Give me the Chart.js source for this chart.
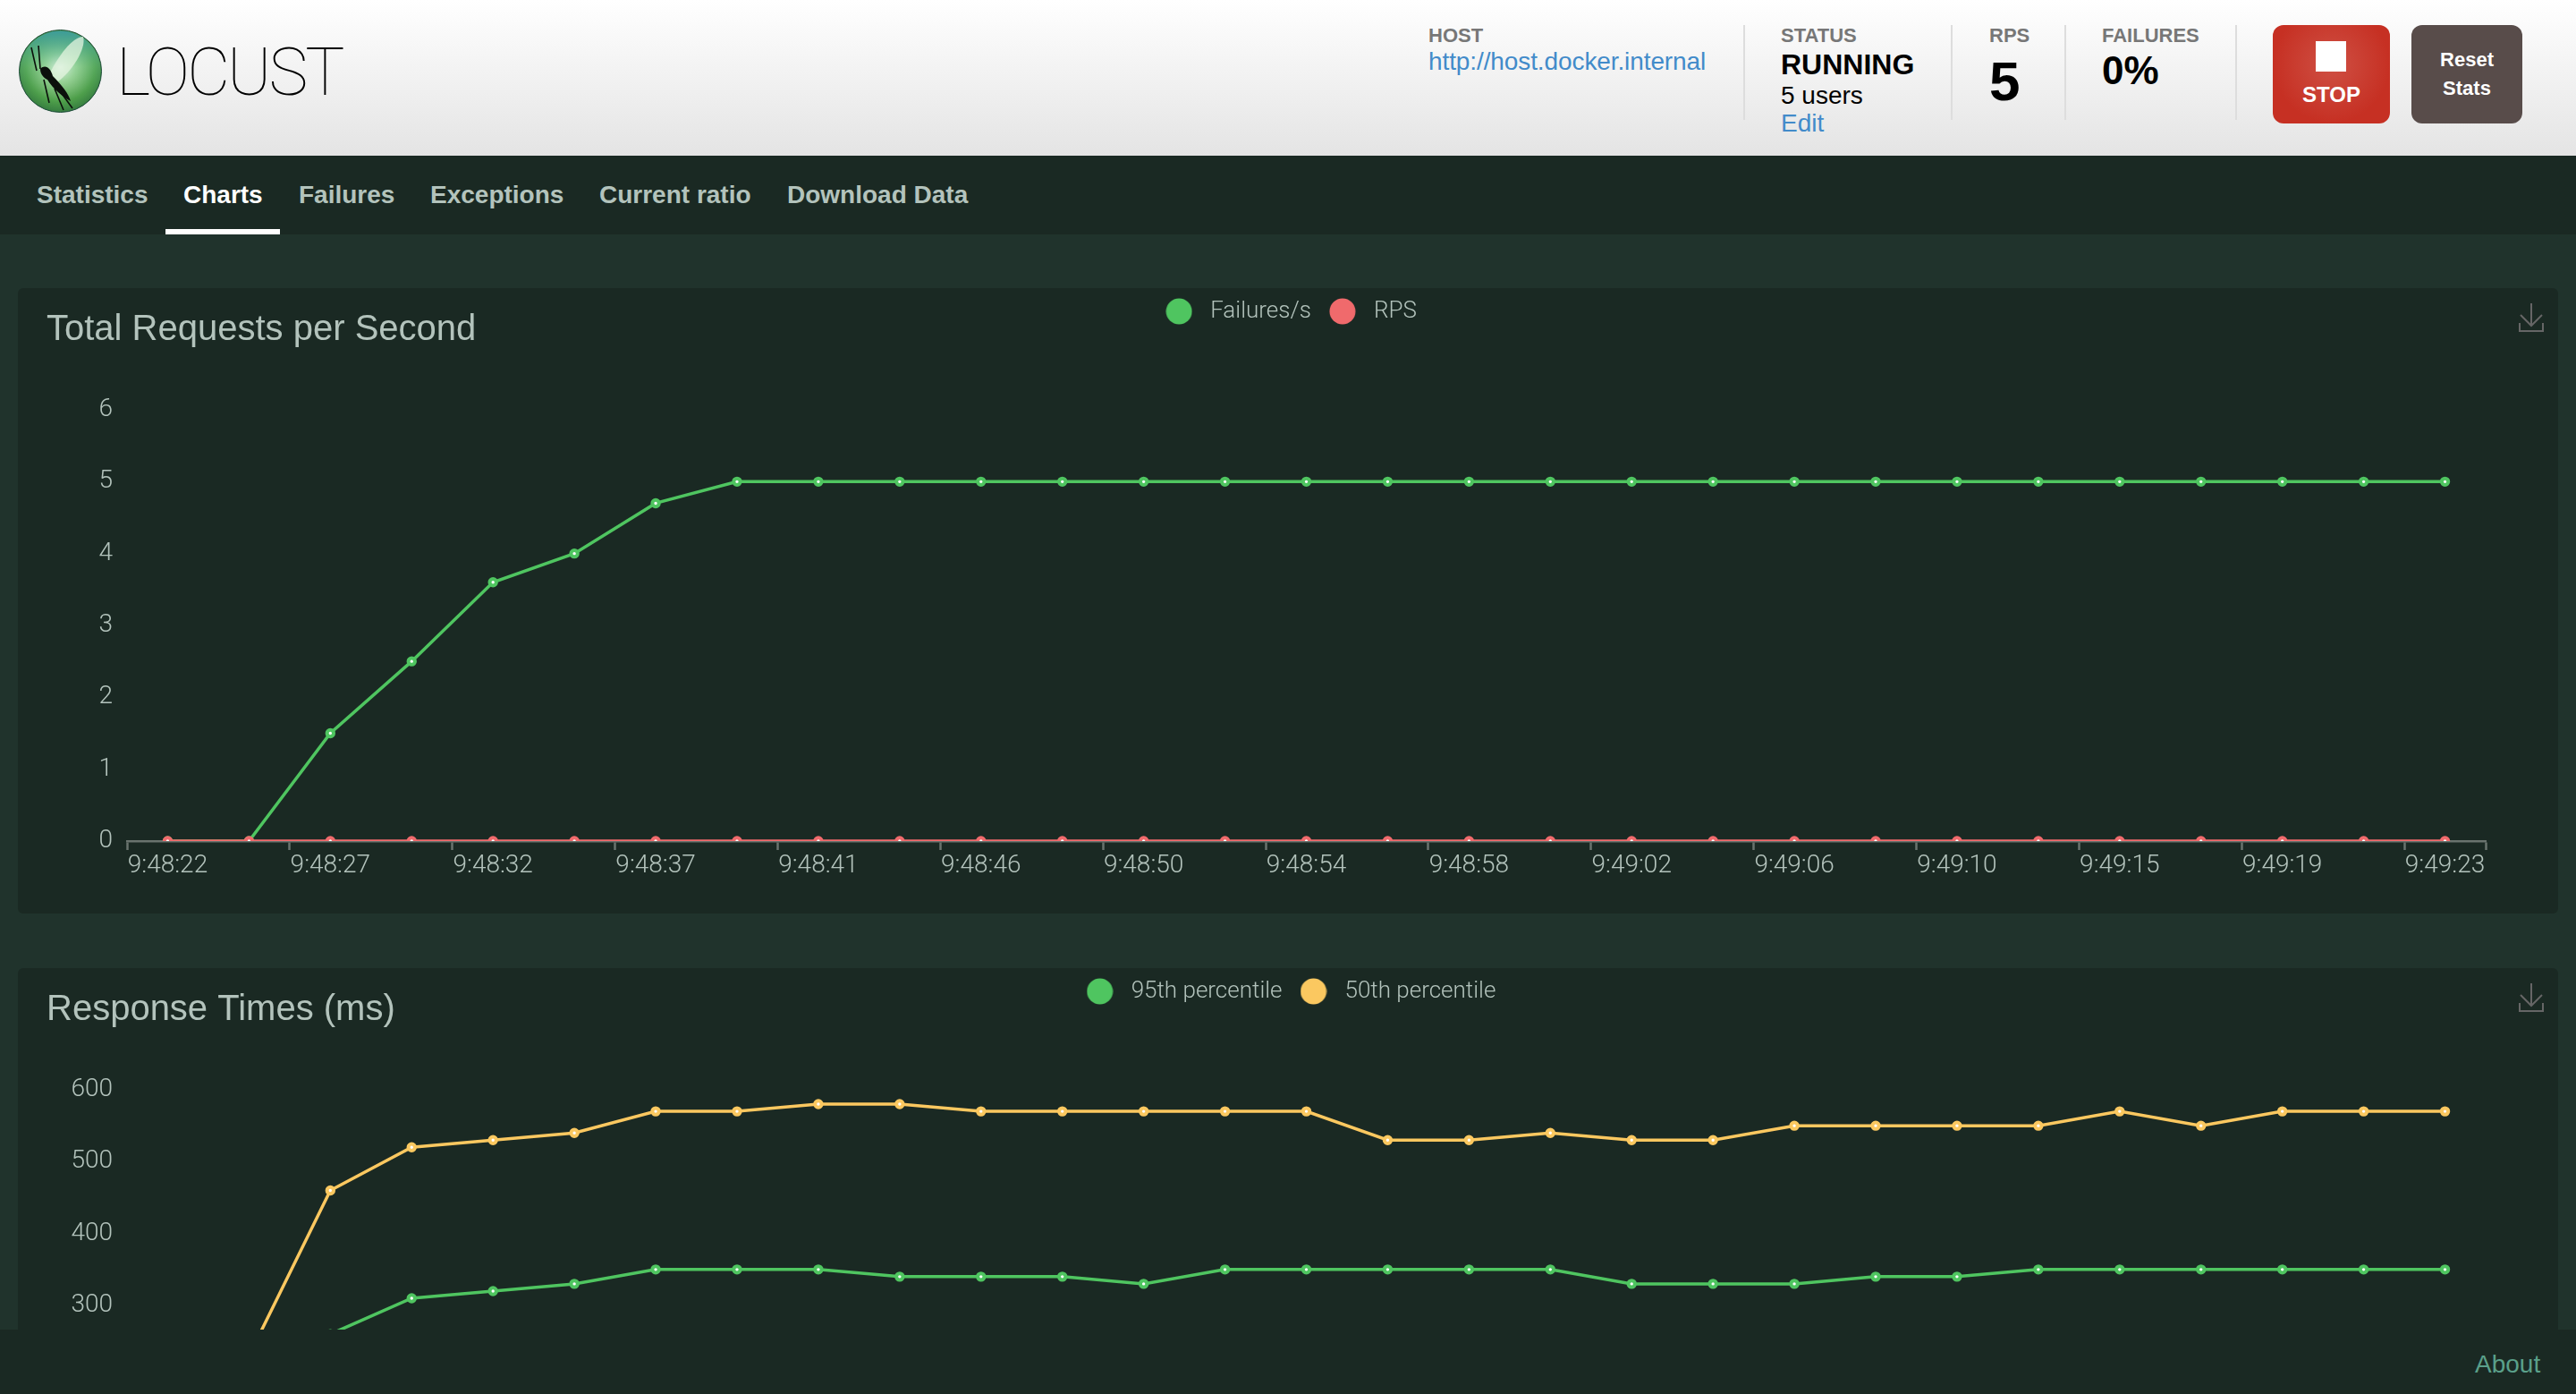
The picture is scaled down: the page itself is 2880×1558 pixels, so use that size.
<!DOCTYPE html>
<html>
<head>
<meta charset="utf-8">
<title>Locust</title>
<script src="https://cdn.jsdelivr.net/npm/chart.js@4"></script>
<style>
html, body { margin: 0; padding: 0; width: 2880px; height: 1558px; overflow: hidden; background: #20332c; font-family: "Liberation Sans", sans-serif; }
.abs { position: absolute; white-space: nowrap; line-height: 1; }
#header { position: absolute; left: 0; top: 0; width: 2880px; height: 174px; background: linear-gradient(#ffffff, #e4e4e4); }
#nav { position: absolute; left: 0; top: 174px; width: 2880px; height: 88px; background: #1a2923; }
#nav span { position: absolute; top: 29px; font-size: 28px; font-weight: bold; color: #b3c3bc; line-height: 30px; white-space: nowrap; }
#underline { position: absolute; left: 185px; top: 82px; width: 128px; height: 6px; background: #fff; }
.label { font-size: 22px; font-weight: bold; color: #777; }
.link { color: #428bca; font-size: 28px; }
.divider { position: absolute; top: 28px; width: 2px; height: 106px; background: #ddd; }
.btn { position: absolute; top: 28px; height: 110px; border-radius: 12px; color: #fff; font-weight: bold; text-align: center; }
.panel { position: absolute; left: 20px; width: 2840px; height: 699px; background: #1a2923; border-radius: 6px; }
.panel svg { position: absolute; left: 2796px; top: 17px; }
#footer { position: absolute; left: 0; top: 1486px; width: 2880px; height: 72px; background: #1a2923; }
</style>
</head>
<body>

<div id="header">
  <svg class="abs" style="left:21px;top:33px" width="93" height="93" viewBox="0 0 93 93">
    <defs>
      <radialGradient id="orb" cx="50%" cy="45%" r="60%">
        <stop offset="0" stop-color="#ffffff"/>
        <stop offset="0.3" stop-color="#a8dca0"/>
        <stop offset="0.7" stop-color="#4fa04a"/>
        <stop offset="1" stop-color="#2c6e3c"/>
      </radialGradient>
      <linearGradient id="sky" x1="0" y1="0" x2="0" y2="1">
        <stop offset="0" stop-color="#3d9c9a"/>
        <stop offset="0.45" stop-color="#6cc08c" stop-opacity="0.3"/>
        <stop offset="1" stop-color="#2c7a30" stop-opacity="0"/>
      </linearGradient>
    </defs>
    <circle cx="46.5" cy="46.5" r="46" fill="url(#orb)" stroke="#1d4a3a" stroke-width="1"/>
    <circle cx="46.5" cy="46.5" r="45" fill="url(#sky)"/>
    <path d="M34 50 C44 30 60 8 72 8 C76 22 58 48 44 58 Z" fill="#e4f4e0" opacity="0.75"/>
    <path d="M24 44 C30 38 36 44 38 52 C48 62 56 72 58 80 C50 76 38 66 32 56 C28 54 24 50 24 44 Z" fill="#0b0f0b"/>
    <path d="M20 46 L14 20 M24 44 L22 18 M28 56 L34 82 M44 66 L60 88 M40 66 L50 90" stroke="#0b0f0b" stroke-width="1.6" fill="none"/>
  </svg>
  <div class="abs" style="left:130px;top:44px;font-family:Roboto,sans-serif;font-weight:100;font-size:74px;letter-spacing:-3px;color:#000">LOCUST</div>

  <div class="abs label" style="left:1597px;top:29px">HOST</div>
  <div class="abs link" style="left:1597px;top:55px;letter-spacing:-0.1px">http://host.docker.internal</div>
  <div class="divider" style="left:1949px"></div>

  <div class="abs label" style="left:1991px;top:29px">STATUS</div>
  <div class="abs" style="left:1991px;top:56px;font-size:32px;font-weight:bold;color:#000">RUNNING</div>
  <div class="abs" style="left:1991px;top:93px;font-size:28px;color:#000">5 users</div>
  <div class="abs link" style="left:1991px;top:124px">Edit</div>
  <div class="divider" style="left:2181px"></div>

  <div class="abs label" style="left:2224px;top:29px">RPS</div>
  <div class="abs" style="left:2224px;top:60px;font-size:62px;font-weight:bold;color:#000">5</div>
  <div class="divider" style="left:2308px"></div>

  <div class="abs label" style="left:2350px;top:29px">FAILURES</div>
  <div class="abs" style="left:2350px;top:57px;font-size:44px;font-weight:bold;color:#000">0%</div>
  <div class="divider" style="left:2499px"></div>

  <div class="btn" style="left:2541px;width:131px;background:radial-gradient(circle at 50% 40%, #cf5044, #c63023 70%)">
    <div class="abs" style="left:48px;top:18px;width:34px;height:34px;background:#fff"></div>
    <div class="abs" style="left:0;width:131px;top:66px;font-size:24px">STOP</div>
  </div>
  <div class="btn" style="left:2696px;width:124px;background:#584c4a;font-size:22px">
    <div class="abs" style="left:0;width:124px;top:28px">Reset</div>
    <div class="abs" style="left:0;width:124px;top:60px">Stats</div>
  </div>
</div>

<div id="nav">
  <span style="left:41px">Statistics</span>
  <span style="left:205px;color:#fff">Charts</span>
  <span style="left:334px">Failures</span>
  <span style="left:481px">Exceptions</span>
  <span style="left:670px">Current ratio</span>
  <span style="left:880px">Download Data</span>
  <div id="underline"></div>
</div>

<div class="panel" style="top:322px">
  <canvas id="rpsChart"></canvas>
  <svg width="28" height="32" viewBox="0 0 28 32" fill="none" stroke="#666" stroke-width="2"><path d="M14 0 V25 M2 13 L14 25 L26 13 M1 22 V31 H27 V22"/></svg>
</div>
<div class="panel" style="top:1082px">
  <canvas id="timesChart"></canvas>
  <svg width="28" height="32" viewBox="0 0 28 32" fill="none" stroke="#666" stroke-width="2"><path d="M14 0 V25 M2 13 L14 25 L26 13 M1 22 V31 H27 V22"/></svg>
</div>

<div id="footer">
  <div class="abs" style="left:2767px;top:25px;font-size:28px;color:#5aa08a">About</div>
</div>

<script>
const times = ["9:48:22","9:48:25","9:48:27","9:48:30","9:48:32","9:48:35","9:48:37","9:48:39","9:48:41","9:48:44",
  "9:48:46","9:48:48","9:48:50","9:48:52","9:48:54","9:48:56","9:48:58","9:49:00","9:49:02","9:49:04",
  "9:49:06","9:49:08","9:49:10","9:49:13","9:49:15","9:49:17","9:49:19","9:49:21","9:49:23"];
const rps = [0,0,1.5,2.5,3.6,4,4.7,5,5,5,5,5,5,5,5,5,5,5,5,5,5,5,5,5,5,5,5,5,5];
const failures = [0,0,0,0,0,0,0,0,0,0,0,0,0,0,0,0,0,0,0,0,0,0,0,0,0,0,0,0,0];
const p50 = [0,0,260,310,320,330,350,350,350,340,340,340,330,350,350,350,350,350,330,330,330,340,340,350,350,350,350,350,350];
const p95 = [0,230,460,520,530,540,570,570,580,580,570,570,570,570,570,530,530,540,530,530,550,550,550,550,570,550,570,570,570];

const GREEN = "#4fc560", RED = "#f06a6c", YELLOW = "#fbc860";
const TEXT = "#b3c3bc", AXIS = "#69736e";

function legendDot(color) {
  const c = document.createElement("canvas");
  c.width = 30; c.height = 30;
  const g = c.getContext("2d");
  g.fillStyle = color;
  g.beginPath();
  g.arc(15, 15, 14.5, 0, Math.PI * 2);
  g.fill();
  return c;
}

function line(label, data, color, order) {
  return {
    label: label, data: data, order: order,
    borderColor: color, backgroundColor: color,
    borderWidth: 3.5,
    pointRadius: 3.7, pointBorderWidth: 4,
    pointBackgroundColor: "#ffffff", pointBorderColor: color
  };
}

function makeChart(id, title, datasets, yMax, yStep) {
  const el = document.getElementById(id);
  el.parentNode.style.overflow = "visible";
  return new Chart(el, {
    type: "line",
    data: { labels: times, datasets: datasets },
    options: {
      responsive: false,
      animation: false,
      layout: { padding: { left: 32, right: 32, top: 0, bottom: 0 } },
      plugins: {
        tooltip: { enabled: false },
        title: {
          display: true, text: title, align: "start", color: TEXT, weight: 500,
          font: { family: "Liberation Sans", size: 40, weight: "normal", lineHeight: 1.2 },
          padding: { top: -26, bottom: 65 }
        },
        legend: {
          position: "top",
          labels: {
            color: TEXT,
            font: { family: "Roboto", size: 26, weight: "300" },
            padding: 13, usePointStyle: true, pointStyleWidth: 44, boxHeight: 20,
            generateLabels: function (chart) {
              return Chart.defaults.plugins.legend.labels.generateLabels(chart).map(function (item, i) {
                item.pointStyle = legendDot(datasets[i].borderColor);
                return item;
              });
            }
          }
        }
      },
      scales: {
        x: {
          offset: true,
          grid: {
            offset: true, drawOnChartArea: false, tickLength: 10, tickWidth: 2.5,
            tickColor: c => (c.index % 2 ? "transparent" : AXIS)
          },
          border: { color: AXIS, width: 2.5 },
          ticks: {
            color: TEXT, autoSkip: false, maxRotation: 0, padding: 1,
            font: { family: "Roboto", size: 28, weight: "300" },
            callback: (v, i) => (i % 2 ? "" : times[i])
          },
          afterFit: s => { s.height = 81; }
        },
        y: {
          min: 0, max: yMax,
          grid: { display: false, drawTicks: false },
          border: { display: false },
          ticks: {
            color: TEXT, stepSize: yStep, padding: 16,
            font: { family: "Roboto", size: 28, weight: "300" }
          },
          afterFit: s => { s.width = 90; }
        },
        spare: {
          position: "right", display: true,
          grid: { display: false, drawTicks: false },
          border: { display: false },
          ticks: { display: false },
          afterFit: s => { s.width = 49; }
        }
      }
    }
  });
}

for (const id of ["rpsChart", "timesChart"]) {
  const el = document.getElementById(id);
  el.width = 2840; el.height = 699;
  el.style.width = "2840px"; el.style.height = "699px";
}

makeChart("rpsChart", "Total Requests per Second",
  [line("RPS", rps, GREEN, 2), line("Failures/s", failures, RED, 1)], 6, 1);
makeChart("timesChart", "Response Times (ms)",
  [line("50th percentile", p50, GREEN, 2), line("95th percentile", p95, YELLOW, 1)], 600, 100);
</script>
</body>
</html>
